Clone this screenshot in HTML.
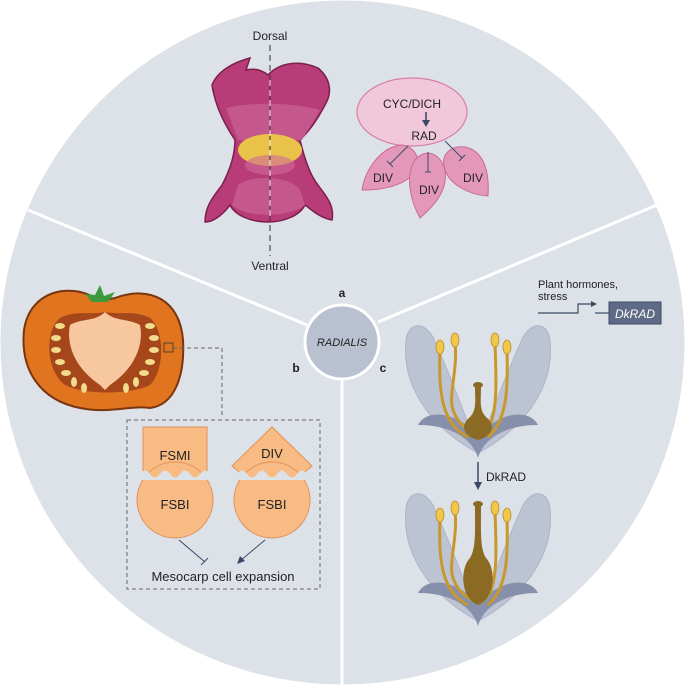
<!DOCTYPE html>
<html><head><meta charset="utf-8"><style>
html,body{margin:0;padding:0;background:#fff;width:685px;height:685px;overflow:hidden}
svg{display:block}
text{font-family:"Liberation Sans",sans-serif;fill:#222}
</style></head><body>
<svg width="685" height="685" viewBox="0 0 685 685">
<defs>
<g id="flw">
  <path d="M0,128 C-35,110 -78,70 -72,15 C-70,-2 -55,-5 -45,12 C-30,45 -12,90 0,128Z" fill="#bcc3d3" stroke="#a8b0c2" stroke-width="0.8"/>
  <path d="M0,128 C35,110 78,70 72,15 C70,-2 55,-5 45,12 C30,45 12,90 0,128Z" fill="#bcc3d3" stroke="#a8b0c2" stroke-width="0.8"/>
  <path d="M0,133 C-5,115 -25,100 -60,100 C-55,90 -40,85 -20,95 C-10,100 -3,108 0,110 C3,108 10,100 20,95 C40,85 55,90 60,100 C25,100 5,115 0,133Z" fill="#8690aa"/>
</g>
</defs>
<circle cx="342.5" cy="342.5" r="342" fill="#dde1e8"/>
<g stroke="#fff" stroke-width="3" fill="none">
  <line x1="307" y1="325" x2="28" y2="210"/>
  <line x1="378" y1="322" x2="657" y2="205"/>
  <line x1="342" y1="380" x2="342" y2="685"/>
</g>
<!-- Top: snapdragon -->
<path d="M212,85 C218,70 235,62 250,58 L246,70 C255,68 262,70 268,75 C280,62 300,60 318,68 C330,78 333,92 325,105 C318,118 312,128 300,140 C305,160 310,175 318,185 C325,195 335,205 332,220 C320,218 312,210 305,205 C300,215 285,222 268,222 C250,222 235,215 230,205 C225,212 215,222 205,222 C205,205 215,195 222,185 C230,170 235,155 235,140 C225,125 215,105 212,85Z" fill="#b83c78" stroke="#7a1f4c" stroke-width="1.5"/>
<path d="M226,108 C250,102 292,102 320,110 L302,140 L238,140Z" fill="#c4578b"/>
<path d="M238,185 C250,175 290,175 300,190 L305,205 C290,218 245,218 232,205Z" fill="#c4578b"/>
<ellipse cx="270" cy="150" rx="32" ry="16" fill="#e9c24a"/>
<ellipse cx="270" cy="165" rx="25" ry="10" fill="#d06a98" opacity="0.6"/>
<line x1="270" y1="45" x2="270" y2="256" stroke="#333" stroke-width="1" stroke-dasharray="6,4"/>
<line x1="270" y1="80" x2="270" y2="220" stroke="#fff" stroke-width="1" stroke-dasharray="6,4" opacity="0.8"/>
<text x="270" y="40" font-size="12" text-anchor="middle">Dorsal</text>
<text x="270" y="270" font-size="12" text-anchor="middle">Ventral</text>
<!-- CYC/DICH -->
<ellipse cx="412" cy="112" rx="55" ry="34" fill="#f1c8d9" stroke="#d77fa5" stroke-width="1.2"/>
<path d="M362,190 C365,170 380,148 400,145 C415,145 422,160 415,172 C405,185 385,190 362,190Z" fill="#e498b9" stroke="#c96893" stroke-width="1"/>
<path d="M488,196 C470,195 450,185 445,170 C440,155 450,145 465,147 C480,150 490,165 488,196Z" fill="#e498b9" stroke="#c96893" stroke-width="1"/>
<path d="M420,218 C410,200 405,175 415,160 C425,148 440,152 445,170 C448,190 435,205 420,218Z" fill="#e498b9" stroke="#c96893" stroke-width="1"/>
<text x="412" y="108" font-size="12" text-anchor="middle">CYC/DICH</text>
<line x1="426" y1="112" x2="426" y2="122" stroke="#3a4a66" stroke-width="1.6"/>
<path d="M422,120 L426,127 L430,120Z" fill="#3a4a66"/>
<text x="424" y="140" font-size="12" text-anchor="middle">RAD</text>
<g stroke="#3a4a66" stroke-width="1">
<line x1="408" y1="146" x2="390" y2="164"/><line x1="387" y1="161" x2="393" y2="167"/>
<line x1="428" y1="152" x2="428" y2="172"/><line x1="425" y1="172" x2="431" y2="172"/>
<line x1="445" y1="141" x2="462" y2="158"/><line x1="459" y1="161" x2="465" y2="155"/>
</g>
<text x="383" y="182" font-size="12" text-anchor="middle">DIV</text>
<text x="429" y="194" font-size="12" text-anchor="middle">DIV</text>
<text x="473" y="182" font-size="12" text-anchor="middle">DIV</text>
<!-- center -->
<circle cx="342" cy="342" r="37" fill="#b9c0cf" stroke="#fff" stroke-width="3"/>
<text x="342" y="346" font-size="11" font-style="italic" text-anchor="middle">RADIALIS</text>
<text x="342" y="297" font-size="12" font-weight="bold" text-anchor="middle">a</text>
<text x="296" y="372" font-size="12" font-weight="bold" text-anchor="middle">b</text>
<text x="383" y="372" font-size="12" font-weight="bold" text-anchor="middle">c</text>
<!-- tomato -->
<path d="M95,298 C70,283 30,290 24,330 C20,370 40,400 80,408 C110,414 130,405 150,408 C175,405 185,375 183,340 C180,300 150,285 115,298 C108,300 100,300 95,298Z" fill="#e0741f" stroke="#7a3410" stroke-width="2"/>
<path d="M60,318 C45,330 45,370 65,385 C85,395 130,395 150,385 C165,370 165,330 150,318 C135,310 120,315 105,312 C90,315 75,310 60,318Z" fill="#a5471a"/>
<path d="M70,325 C66,345 75,368 100,385 L105,390 L110,385 C135,368 144,345 140,325 C128,318 115,322 105,312 C95,322 82,318 70,325Z" fill="#f7c8a0"/>
<g fill="#f2dc8c">
<ellipse cx="60" cy="326" rx="5" ry="3"/><ellipse cx="56" cy="338" rx="5" ry="3"/><ellipse cx="56" cy="350" rx="5" ry="3"/><ellipse cx="60" cy="362" rx="5" ry="3"/><ellipse cx="66" cy="373" rx="5" ry="3"/><ellipse cx="74" cy="382" rx="3" ry="5"/><ellipse cx="84" cy="388" rx="3" ry="5"/>
<ellipse cx="150" cy="326" rx="5" ry="3"/><ellipse cx="154" cy="338" rx="5" ry="3"/><ellipse cx="154" cy="350" rx="5" ry="3"/><ellipse cx="150" cy="362" rx="5" ry="3"/><ellipse cx="144" cy="373" rx="5" ry="3"/><ellipse cx="136" cy="382" rx="3" ry="5"/><ellipse cx="126" cy="388" rx="3" ry="5"/>
</g>
<path d="M95,295 L100,285 L104,296 L115,292 L108,302 L92,302 L85,294Z" fill="#3c9a3c"/>
<rect x="164" y="343" width="9" height="9" fill="#e0741f" stroke="#333" stroke-width="0.8"/>
<g stroke="#666" stroke-width="1" stroke-dasharray="4,3" fill="none">
<polyline points="173,348 222,348 222,418"/>
<rect x="127" y="420" width="193" height="169"/>
</g>
<!-- FSMI/FSBI -->
<g stroke="#e0915a" stroke-width="1">
<rect x="143" y="427" width="64" height="50" fill="#f8bb83"/>
<circle cx="175" cy="500" r="38" fill="#f8bb83"/>
<path d="M232,466 L272,427 L312,466 L272,500Z" fill="#f8bb83"/>
<circle cx="272" cy="500" r="38" fill="#f8bb83"/>
</g>
<path d="M140,474 q5,-7 10,0 t10,0 t10,0 t10,0 t10,0 t10,0 t10,0 l0,6 l-70,0Z" fill="#dde1e8" stroke="none"/>
<path d="M237,474 q5,-7 10,0 t10,0 t10,0 t10,0 t10,0 t10,0 t10,0 l0,6 l-70,0Z" fill="#dde1e8" stroke="none"/>
<text x="175" y="460" font-size="13" text-anchor="middle">FSMI</text>
<text x="175" y="509" font-size="13" text-anchor="middle">FSBI</text>
<text x="272" y="458" font-size="13" text-anchor="middle">DIV</text>
<text x="272" y="509" font-size="13" text-anchor="middle">FSBI</text>
<g stroke="#3a4a66" stroke-width="1">
<line x1="179" y1="540" x2="205" y2="562"/><line x1="201" y1="565" x2="208" y2="558"/>
<line x1="265" y1="540" x2="240" y2="561"/>
</g>
<path d="M237,564 L240,556 L245,561Z" fill="#3a4a66"/>
<text x="223" y="581" font-size="13" text-anchor="middle">Mesocarp cell expansion</text>
<!-- c panel -->
<text x="538" y="288" font-size="11">Plant hormones,</text>
<text x="538" y="300" font-size="11">stress</text>
<polyline points="538,313 578,313 578,304 593,304" fill="none" stroke="#3a4a66" stroke-width="1.2"/>
<path d="M591,301 L597,304 L591,307Z" fill="#3a4a66"/>
<line x1="595" y1="313" x2="609" y2="313" stroke="#3a4a66" stroke-width="1.2"/>
<rect x="609" y="302" width="52" height="22" fill="#5e6b87" stroke="#3a4a66"/>
<text x="635" y="318" font-size="12" font-style="italic" text-anchor="middle" style="fill:#fff">DkRAD</text>
<!-- flower 1 -->
<g transform="translate(478,325)">
<use href="#flw"/>
<g fill="none" stroke="#c9982c" stroke-width="3">
<path d="M-38,25 C-40,70 -35,100 -10,112"/><path d="M-23,18 C-20,45 -30,70 -25,85 C-20,100 -10,105 -3,108"/>
<path d="M17,18 C18,50 20,80 12,100 L3,110"/><path d="M29,25 C30,60 30,95 10,112"/>
</g>
<path d="M-3,62 C-3,75 -1,85 -8,92 C-16,98 -18,110 0,115 C18,110 16,98 8,92 C1,85 3,75 3,62Z" fill="#8b6b24"/>
<ellipse cx="0" cy="60" rx="5" ry="3" fill="#8b6b24"/>
<g fill="#f0c84a" stroke="#b88b2a" stroke-width="0.8">
<ellipse cx="-38" cy="22" rx="4" ry="7"/><ellipse cx="-23" cy="15" rx="4" ry="7"/><ellipse cx="17" cy="15" rx="4" ry="7"/><ellipse cx="29" cy="22" rx="4" ry="7"/>
</g>
</g>
<line x1="478" y1="462" x2="478" y2="485" stroke="#3a4a66" stroke-width="1.5"/>
<path d="M474,482 L478,490 L482,482Z" fill="#3a4a66"/>
<text x="486" y="481" font-size="12">DkRAD</text>
<!-- flower 2 -->
<g transform="translate(478,493)">
<use href="#flw"/>
<g fill="none" stroke="#c9982c" stroke-width="3">
<path d="M-38,25 C-40,70 -35,100 -10,112"/><path d="M-23,18 C-20,45 -30,70 -25,85 C-20,100 -10,105 -3,108"/>
<path d="M17,18 C18,50 20,80 12,100 L3,110"/><path d="M29,25 C30,60 30,95 10,112"/>
</g>
<path d="M-3,12 C-3,40 -2,55 -8,65 C-18,75 -18,105 0,112 C18,105 18,75 8,65 C2,55 3,40 3,12Z" fill="#8b6b24"/>
<ellipse cx="0" cy="11" rx="5" ry="3" fill="#8b6b24"/>
<g fill="#f0c84a" stroke="#b88b2a" stroke-width="0.8">
<ellipse cx="-38" cy="22" rx="4" ry="7"/><ellipse cx="-23" cy="15" rx="4" ry="7"/><ellipse cx="17" cy="15" rx="4" ry="7"/><ellipse cx="29" cy="22" rx="4" ry="7"/>
</g>
</g>
</svg>
</body></html>
